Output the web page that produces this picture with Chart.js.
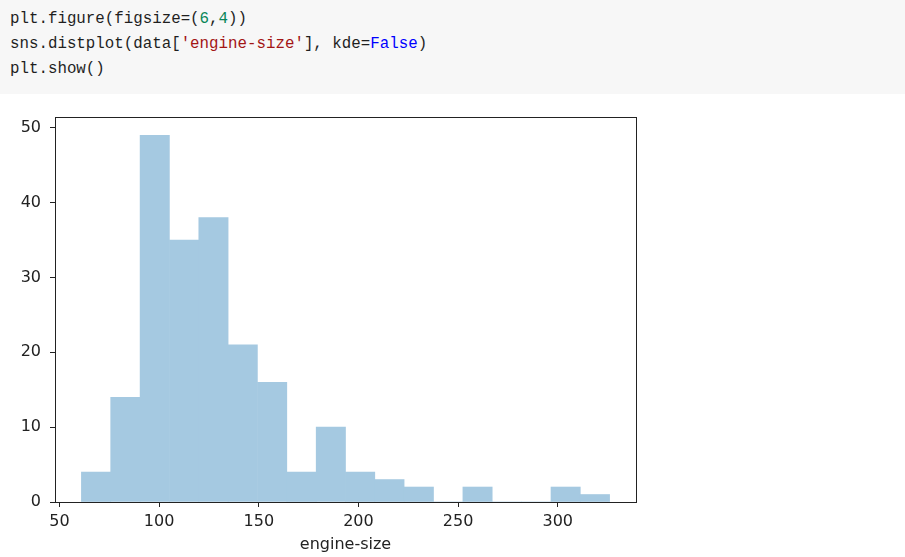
<!DOCTYPE html>
<html>
<head>
<meta charset="utf-8">
<script src="https://cdn.jsdelivr.net/npm/chart.js@4"></script>
<style>
    body { margin: 0; background: #fff; width: 905px; height: 557px; overflow: hidden; }
    .cell { position: absolute; left: 0; top: 0; width: 905px; height: 94px; background: #f7f7f7; }
    .cell pre { margin: 0; position: absolute; left: 10px; top: 7px; font-family: "Liberation Mono", "DejaVu Sans Mono", monospace; font-size: 15.8px; line-height: 25px; color: #1f1f1f; }
    .num { color: #098658; }
    .str { color: #a31515; }
    .kw { color: #0000ff; }
    #box { position: absolute; left: 0; top: 95px; width: 660px; height: 462px; }
</style>
</head>
<body>
<div class="cell"><pre>plt.figure(figsize=(<span class="num">6</span>,<span class="num">4</span>))
sns.distplot(data[<span class="str">'engine-size'</span>], kde=<span class="kw">False</span>)
plt.show()</pre></div>
<div id="box"><canvas id="histChart"></canvas></div>
<script>
// histogram bin edges (engine-size) and counts per bin
var binEdges = [61, 75.7, 90.4, 105.2, 119.9, 134.6, 149.3, 164.1, 178.8, 193.5, 208.2, 222.9, 237.7, 252.4, 267.1, 281.8, 296.6, 311.3, 326];
var counts = [4, 14, 49, 35, 38, 21, 16, 4, 10, 4, 3, 2, 0, 2, 0, 0, 2, 1];
var xTicks = [50, 100, 150, 200, 250, 300];
var yTicks = [0, 10, 20, 30, 40, 50];

var points = [];
for (var i = 0; i < counts.length; i++) {
    points.push({x: (binEdges[i] + binEdges[i + 1]) / 2, y: counts[i]});
}

// draws the top and right spines as well
var frame = {
    id: 'frame',
    afterDraw: function (chart) {
        var a = chart.chartArea, ctx = chart.ctx;
        ctx.save();
        ctx.strokeStyle = '#222';
        ctx.lineWidth = 1;
        ctx.strokeRect(Math.round(a.left) + 0.5, Math.round(a.top) + 0.5, Math.round(a.right - a.left), Math.round(a.bottom - a.top));
        ctx.restore();
    }
};

var tickFont = {family: 'DejaVu Sans', size: 16};

new Chart(document.getElementById('histChart'), {
    type: 'bar',
    data: {
        datasets: [{
            data: points,
            backgroundColor: '#a5c9e1',
            borderWidth: 0,
            barPercentage: 1,
            categoryPercentage: 1,
            grouped: false
        }]
    },
    options: {
        responsive: true,
        maintainAspectRatio: false,
        animation: false,
        layout: { padding: {top: 22, right: 24, left: 0, bottom: 0} },
        plugins: { legend: {display: false}, tooltip: {enabled: false} },
        scales: {
            x: {
                type: 'linear',
                offset: false,
                min: 47.75,
                max: 339.25,
                afterFit: function (s) { s.height = 55; },
                afterBuildTicks: function (s) { s.ticks = xTicks.map(v => ({value: v})); },
                ticks: { color: '#222', font: tickFont, padding: 5, maxRotation: 0, autoSkip: false },
                grid: { offset: false, drawOnChartArea: false, tickLength: 5, color: '#222' },
                border: { color: '#222' },
                title: { display: true, text: 'engine-size', color: '#222', font: tickFont, padding: {top: 0, bottom: 3} }
            },
            y: {
                min: 0,
                max: 51.45,
                afterFit: function (s) { s.width = 55; },
                afterBuildTicks: function (s) { s.ticks = yTicks.map(v => ({value: v})); },
                ticks: { color: '#222', font: tickFont, padding: 9, autoSkip: false },
                grid: { drawOnChartArea: false, tickLength: 5, color: '#222' },
                border: { color: '#222' }
            }
        }
    },
    plugins: [frame]
});
</script>
</body>
</html>
